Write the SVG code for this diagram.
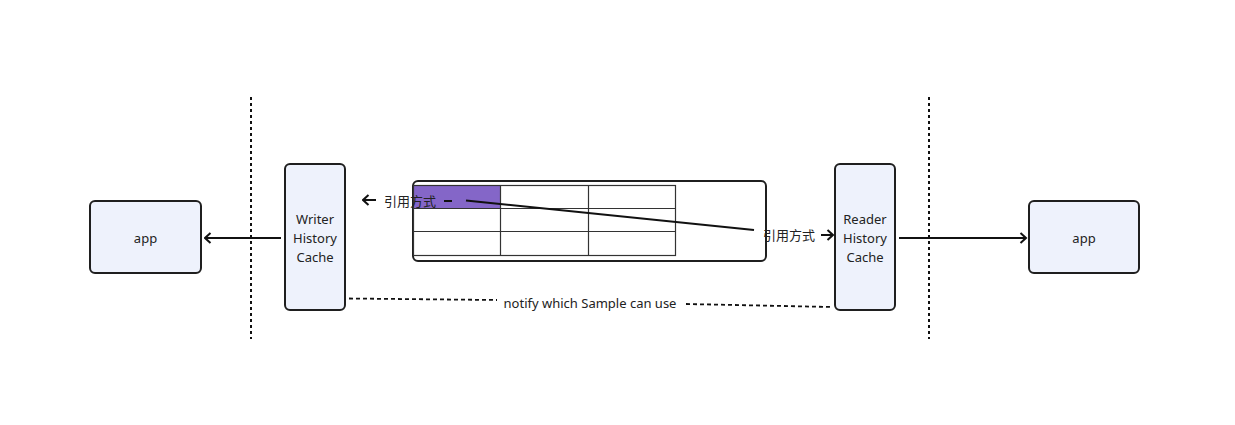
<svg xmlns="http://www.w3.org/2000/svg" width="1235" height="425" viewBox="0 0 1235 425">
<defs>
<style>
.node{fill:#eef2fc;stroke:#1f1f1f;stroke-width:2}
.t{font-family:"Noto Sans","Noto Sans CJK SC",sans-serif;font-size:13px;fill:#222}
.ln{stroke:#111;stroke-width:2;fill:none}
.dot{stroke:#111;stroke-width:2;fill:none;stroke-dasharray:3 3}
.dash{stroke:#111;stroke-width:1.8;fill:none;stroke-dasharray:4 3}
.grid{stroke:#333;stroke-width:1.2;fill:none}
</style>
<marker id="arr" viewBox="0 0 12 12" refX="10.5" refY="6" markerWidth="12" markerHeight="12" markerUnits="userSpaceOnUse" orient="auto">
<path d="M5 1 L10.5 6 L5 11" fill="none" stroke="#111" stroke-width="2"/>
</marker>
</defs>
<rect width="1235" height="425" fill="#ffffff"/>
<g id="dividers">
<line class="dot" x1="251" y1="97" x2="251" y2="339"/>
<line class="dot" x1="929" y1="97" x2="929" y2="339"/>
</g>
<g id="app-left">
<rect class="node" x="90" y="201" width="111" height="72" rx="5"/>
<text class="t" x="145.5" y="243" text-anchor="middle">app</text>
</g>
<g id="writer-history-cache">
<rect class="node" x="285" y="164" width="60" height="146" rx="5"/>
<text class="t" x="315" y="224" text-anchor="middle">Writer</text>
<text class="t" x="315" y="243" text-anchor="middle">History</text>
<text class="t" x="315" y="262" text-anchor="middle">Cache</text>
</g>
<g id="sample-buffer">
<rect x="413" y="181" width="353" height="80" rx="5" fill="#fff" stroke="#1f1f1f" stroke-width="2"/>
<rect x="413" y="185" width="87" height="23" fill="#8466c8"/>
<rect class="grid" x="413.5" y="185.5" width="262" height="70"/>
<line class="grid" x1="500.5" y1="185" x2="500.5" y2="255"/>
<line class="grid" x1="588.5" y1="185" x2="588.5" y2="255"/>
<line class="grid" x1="413" y1="208.5" x2="675" y2="208.5"/>
<line class="grid" x1="413" y1="231.5" x2="675" y2="231.5"/>
</g>
<g id="reader-history-cache">
<rect class="node" x="835" y="164" width="60" height="146" rx="5"/>
<text class="t" x="865" y="224" text-anchor="middle">Reader</text>
<text class="t" x="865" y="243" text-anchor="middle">History</text>
<text class="t" x="865" y="262" text-anchor="middle">Cache</text>
</g>
<g id="app-right">
<rect class="node" x="1029" y="201" width="110" height="72" rx="5"/>
<text class="t" x="1084" y="243" text-anchor="middle">app</text>
</g>
<g id="connectors">
<line class="ln" x1="281" y1="238" x2="205" y2="238" marker-end="url(#arr)"/>
<line class="ln" x1="899" y1="238" x2="1026" y2="238" marker-end="url(#arr)"/>
<line class="ln" x1="376" y1="200" x2="363" y2="200" marker-end="url(#arr)"/>
<text class="t" x="384" y="205.5">引用方式</text>
<line class="ln" x1="444" y1="201" x2="452" y2="201"/>
<line class="ln" x1="466" y1="200.5" x2="754" y2="230"/>
<text class="t" x="763" y="239.5">引用方式</text>
<line class="ln" x1="821" y1="235" x2="833" y2="235" marker-end="url(#arr)"/>
<line class="dash" x1="349" y1="298.5" x2="497" y2="300"/>
<text class="t" x="590" y="308" text-anchor="middle">notify which Sample can use</text>
<line class="dash" x1="686" y1="304" x2="832" y2="307"/>
</g>
</svg>
